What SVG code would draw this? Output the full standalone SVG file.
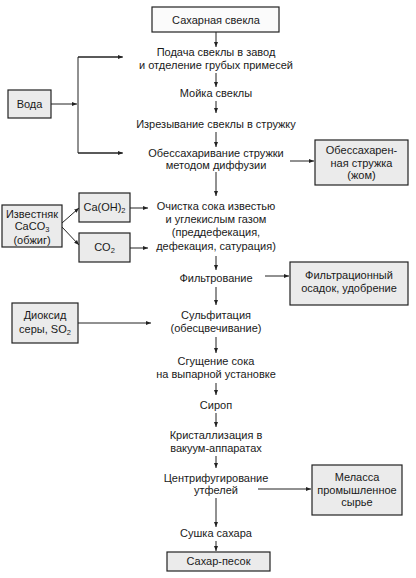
<svg xmlns="http://www.w3.org/2000/svg" width="416" height="578" viewBox="0 0 416 578">
<defs>
<marker id="ah" viewBox="0 0 10 10" refX="10" refY="5" markerWidth="5" markerHeight="5" orient="auto" markerUnits="userSpaceOnUse">
<path d="M0,1 L10,5 L0,9 Z" fill="#222"/>
</marker>
</defs>
<style>
text{font-family:"Liberation Sans",Arial,sans-serif;font-size:11px;fill:#1a1a1a;text-anchor:middle}
.box{fill:#ebebeb;stroke:#222;stroke-width:1.2}
.wbox{fill:#fbfbfb;stroke:#222;stroke-width:1.2}
.c{stroke:#222;stroke-width:1;fill:none}
.a{stroke:#222;stroke-width:1;fill:none;marker-end:url(#ah)}
.sub{font-size:7.5px}
</style>
<rect width="416" height="578" fill="#fff"/>

<g id="connectors">
<line class="a" x1="216" y1="32" x2="216" y2="47"/>
<line class="a" x1="216" y1="73" x2="216" y2="87"/>
<line class="a" x1="216" y1="101" x2="216" y2="113"/>
<line class="a" x1="216" y1="132" x2="216" y2="147"/>
<line class="a" x1="216" y1="172" x2="216" y2="196"/>
<line class="a" x1="216" y1="256" x2="216" y2="270"/>
<line class="a" x1="216" y1="287" x2="216" y2="305"/>
<line class="a" x1="216" y1="337" x2="216" y2="353"/>
<line class="a" x1="216" y1="383" x2="216" y2="395"/>
<line class="a" x1="216" y1="413" x2="216" y2="427"/>
<line class="a" x1="216" y1="456" x2="216" y2="468"/>
<line class="a" x1="216" y1="498" x2="216" y2="527"/>
<line class="a" x1="216" y1="541" x2="216" y2="551"/>
<polyline class="c" points="122,57 78,57 78,153 122,153"/>
<line class="a" x1="78" y1="57" x2="123" y2="57"/>
<line class="a" x1="78" y1="153" x2="123" y2="153"/>
<line class="a" x1="51" y1="104" x2="77" y2="104"/>
<line class="a" x1="290" y1="161" x2="314" y2="161"/>
<line class="a" x1="62" y1="223" x2="79" y2="208"/>
<line class="a" x1="62" y1="227" x2="79" y2="245"/>
<line class="a" x1="130" y1="208" x2="148" y2="208"/>
<line class="a" x1="130" y1="248" x2="148" y2="248"/>
<line class="a" x1="265" y1="276" x2="289" y2="276"/>
<line class="a" x1="78" y1="323" x2="151" y2="323"/>
<line class="a" x1="258" y1="489" x2="311" y2="489"/>
</g>

<g id="n-beet"><rect class="wbox" x="152" y="7" width="127" height="25"/><text x="216" y="24">Сахарная свекла</text></g>
<g id="n-feed"><text x="216" y="56">Подача свеклы в завод</text><text x="216" y="69">и отделение грубых примесей</text></g>
<g id="n-wash"><text x="216" y="97">Мойка свеклы</text></g>
<g id="n-cut"><text x="216" y="128">Изрезывание свеклы в стружку</text></g>
<g id="n-diff"><text x="216" y="157">Обессахаривание стружки</text><text x="216" y="169">методом диффузии</text></g>
<g id="n-water"><rect class="box" x="8" y="90" width="43" height="28"/><text x="29.5" y="108">Вода</text></g>
<g id="n-pulp"><rect class="box" x="315" y="140" width="93" height="45"/><text x="361.5" y="154">Обессахарен-</text><text x="361.5" y="167">ная стружка</text><text x="361.5" y="179">(жом)</text></g>
<g id="n-lime"><rect class="box" x="2" y="205" width="60" height="42"/><text x="32" y="218">Известняк</text><text x="32" y="230">CaCO<tspan class="sub" dy="1.5">3</tspan></text><text x="32" y="244">(обжиг)</text></g>
<g id="n-caoh"><rect class="box" x="79" y="193" width="51" height="29"/><text x="104.5" y="211">Ca(OH)<tspan class="sub" dy="2">2</tspan></text></g>
<g id="n-co2"><rect class="box" x="79" y="233" width="51" height="29"/><text x="104.5" y="251">CO<tspan class="sub" dy="2">2</tspan></text></g>
<g id="n-clean"><text x="216" y="210">Очистка сока известью</text><text x="216" y="223">и углекислым газом</text><text x="216" y="236">(преддефекация,</text><text x="216" y="250">дефекация, сатурация)</text></g>
<g id="n-filter"><text x="216" y="282">Фильтрование</text></g>
<g id="n-cake"><rect class="box" x="290" y="262" width="118" height="43"/><text x="349" y="279">Фильтрационный</text><text x="349" y="292">осадок, удобрение</text></g>
<g id="n-so2"><rect class="box" x="12" y="303" width="66" height="40"/><text x="45" y="319">Диоксид</text><text x="45" y="333">серы, SO<tspan class="sub" dy="2">2</tspan></text></g>
<g id="n-sulf"><text x="216" y="319">Сульфитация</text><text x="216" y="332">(обесцвечивание)</text></g>
<g id="n-evap"><text x="216" y="365">Сгущение сока</text><text x="216" y="378">на выпарной установке</text></g>
<g id="n-syrup"><text x="216" y="409">Сироп</text></g>
<g id="n-cryst"><text x="216" y="439">Кристаллизация в</text><text x="216" y="452">вакуум-аппаратах</text></g>
<g id="n-centr"><text x="216" y="482">Центрифугирование</text><text x="216" y="494">утфелей</text></g>
<g id="n-molasses"><rect class="box" x="312" y="465" width="90" height="50"/><text x="357" y="481">Меласса</text><text x="357" y="494">промышленное</text><text x="357" y="506">сырье</text></g>
<g id="n-dry"><text x="216" y="537">Сушка сахара</text></g>
<g id="n-sugar"><rect class="box" x="167" y="552" width="103" height="19"/><text x="218.5" y="565">Сахар-песок</text></g>
</svg>
